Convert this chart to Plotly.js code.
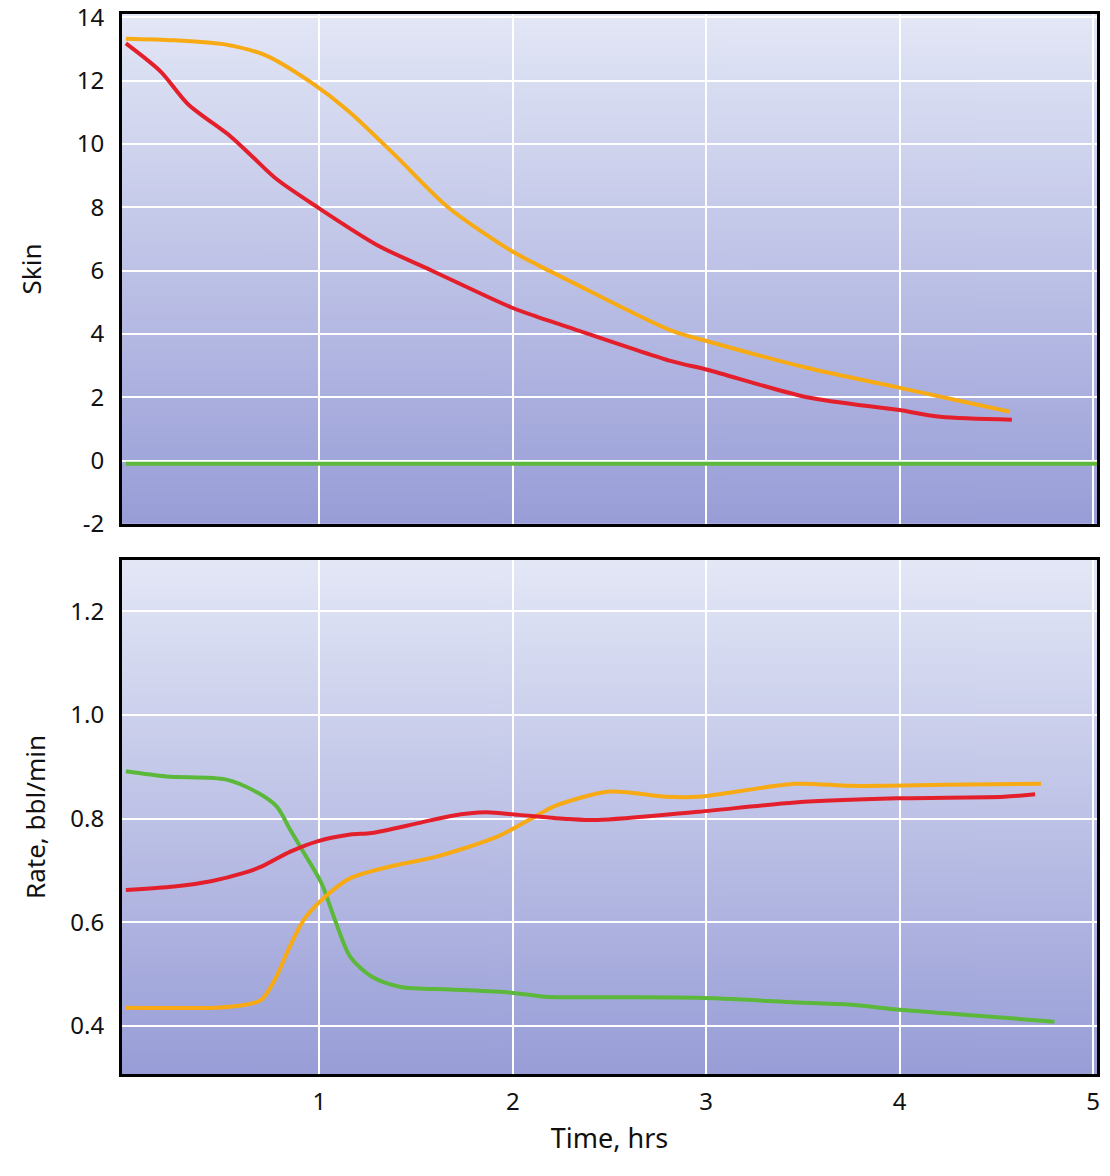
<!DOCTYPE html>
<html>
<head>
<meta charset="utf-8">
<script src="https://cdn.plot.ly/plotly-3.0.1.min.js"></script>
<style>
  html, body { margin: 0; padding: 0; background: #fff; }
  #chart { width: 1110px; height: 1176px; }
</style>
</head>
<body>
<div id="chart"></div>
<script>
// Skin (top panel)
const skinRedX = [0, 0.18, 0.32, 0.54, 0.66, 0.78, 0.99, 1.3, 1.58, 1.99, 2.13, 2.24, 2.82, 3.01, 3.52, 3.99, 4.21, 4.58];
const skinRedY = [13.17, 12.28, 11.26, 10.24, 9.56, 8.88, 8.0, 6.8, 6.0, 4.84, 4.53, 4.31, 3.14, 2.86, 2.0, 1.6, 1.38, 1.29];

const skinOrangeX = [0, 0.25, 0.51, 0.72, 0.95, 1.15, 1.39, 1.665, 1.99, 2.13, 2.30, 2.82, 3.01, 3.52, 3.99, 4.29, 4.57];
const skinOrangeY = [13.32, 13.27, 13.14, 12.8, 11.97, 11.04, 9.65, 8.0, 6.63, 6.17, 5.65, 4.10, 3.76, 2.93, 2.31, 1.91, 1.54];

const skinGreenX = [0, 5.05];
const skinGreenY = [-0.1, -0.1];

// Rate, bbl/min (bottom panel)
const rateRedX = [0, 0.25, 0.44, 0.61, 0.70, 0.85, 0.99, 1.16, 1.27, 1.51, 1.68, 1.86, 2.03, 2.29, 2.44, 2.96, 3.46, 3.99, 4.54, 4.70];
const rateRedY = [0.662, 0.669, 0.679, 0.695, 0.707, 0.736, 0.756, 0.769, 0.772, 0.791, 0.805, 0.812, 0.807, 0.799, 0.797, 0.813, 0.831, 0.839, 0.842, 0.847];

const rateOrangeX = [0, 0.47, 0.61, 0.70, 0.77, 0.84, 0.92, 1.03, 1.16, 1.34, 1.60, 1.77, 1.92, 1.99, 2.13, 2.21, 2.50, 2.79, 2.96, 3.46, 3.75, 4.23, 4.73];
const rateOrangeY = [0.435, 0.435, 0.44, 0.45, 0.489, 0.547, 0.605, 0.649, 0.685, 0.705, 0.726, 0.745, 0.765, 0.778, 0.807, 0.823, 0.852, 0.842, 0.842, 0.867, 0.863, 0.865, 0.867];

const rateGreenX = [0, 0.21, 0.52, 0.68, 0.78, 0.85, 0.92, 1.01, 1.08, 1.16, 1.27, 1.42, 1.68, 1.99, 2.17, 2.5, 2.96, 3.48, 3.74, 4.0, 4.35, 4.80];
const rateGreenY = [0.891, 0.881, 0.875, 0.85, 0.823, 0.778, 0.734, 0.676, 0.605, 0.533, 0.495, 0.475, 0.470, 0.464, 0.456, 0.455, 0.454, 0.445, 0.441, 0.431, 0.421, 0.408];

// Axis ticks
const timeTicks = [1, 2, 3, 4, 5];
const skinTicks = [-2, 0, 2, 4, 6, 8, 10, 12, 14];
const skinTickText = ['-2', '0', '2', '4', '6', '8', '10', '12', '14'];
const rateTicks = [0.4, 0.6, 0.8, 1.0, 1.2];

const RED = '#e41f2c';
const ORANGE = '#f7aa14';
const GREEN = '#5cb83a';
const FONT = 'Noto Sans, Open Sans, DejaVu Sans, sans-serif';

// vertical gradient used as plot-area background
function gradientURL(top, bottom) {
    const c = document.createElement('canvas');
    c.width = 4; c.height = 512;
    const ctx = c.getContext('2d');
    const g = ctx.createLinearGradient(0, 0, 0, 512);
    g.addColorStop(0, top);
    g.addColorStop(1, bottom);
    ctx.fillStyle = g;
    ctx.fillRect(0, 0, 4, 512);
    return c.toDataURL();
}

const bg = gradientURL('#e3e7f6', '#989dd7');
const topDomain = [0.519, 1];
const botDomain = [0, 0.485];

function line(x, y, color, xa, ya) {
    return {
        x, y, xaxis: xa, yaxis: ya,
        type: 'scatter', mode: 'lines',
        line: { color, width: 4, shape: 'spline', smoothing: 0.8 },
        hoverinfo: 'skip',
    };
}

const traces = [
    line(skinGreenX, skinGreenY, GREEN, 'x2', 'y2'),
    line(skinOrangeX, skinOrangeY, ORANGE, 'x2', 'y2'),
    line(skinRedX, skinRedY, RED, 'x2', 'y2'),
    line(rateGreenX, rateGreenY, GREEN, 'x', 'y'),
    line(rateOrangeX, rateOrangeY, ORANGE, 'x', 'y'),
    line(rateRedX, rateRedY, RED, 'x', 'y'),
];

const axisStyle = {
    showline: true, mirror: true, linecolor: '#000', linewidth: 3,
    showgrid: true, gridcolor: '#ffffff', gridwidth: 2,
    zeroline: false, ticks: '',
    ticklabeloverflow: 'allow',
    tickfont: { family: FONT, size: 24, color: '#111' },
};

const layout = {
    width: 1110, height: 1176,
    margin: { l: 122, r: 13, t: 14, b: 102 },
    paper_bgcolor: '#ffffff',
    plot_bgcolor: 'rgba(0,0,0,0)',
    showlegend: false,
    font: { family: FONT, color: '#111' },
    xaxis: {
        ...axisStyle,
        anchor: 'y', range: [-0.02, 5.02],
        tickmode: 'array', tickvals: timeTicks,
        ticklabelstandoff: 4,
        title: { text: 'Time, hrs', font: { family: FONT, size: 27, color: '#111' }, standoff: 14 },
    },
    yaxis: {
        ...axisStyle,
        anchor: 'x', domain: botDomain, range: [0.307, 1.299],
        tickmode: 'array', tickvals: rateTicks, tickformat: '.1f',
        ticklabelstandoff: 10,
        title: { text: 'Rate, bbl/min', font: { family: FONT, size: 26, color: '#111' }, standoff: 18 },
    },
    xaxis2: {
        ...axisStyle,
        anchor: 'y2', matches: 'x', range: [-0.02, 5.02],
        tickmode: 'array', tickvals: timeTicks, showticklabels: false,
    },
    yaxis2: {
        ...axisStyle,
        anchor: 'x2', domain: topDomain, range: [-2, 14.1],
        tickmode: 'array', tickvals: skinTicks, ticktext: skinTickText,
        ticklabelstandoff: 10,
        title: { text: 'Skin', font: { family: FONT, size: 26, color: '#111' }, standoff: 28 },
    },
    images: [
        { source: bg, xref: 'paper', yref: 'paper', x: 0, y: topDomain[1],
          sizex: 1, sizey: topDomain[1] - topDomain[0], xanchor: 'left', yanchor: 'top',
          sizing: 'stretch', layer: 'below' },
        { source: bg, xref: 'paper', yref: 'paper', x: 0, y: botDomain[1],
          sizex: 1, sizey: botDomain[1] - botDomain[0], xanchor: 'left', yanchor: 'top',
          sizing: 'stretch', layer: 'below' },
    ],
};

Plotly.newPlot('chart', traces, layout, { staticPlot: true, displayModeBar: false });
</script>
</body>
</html>
